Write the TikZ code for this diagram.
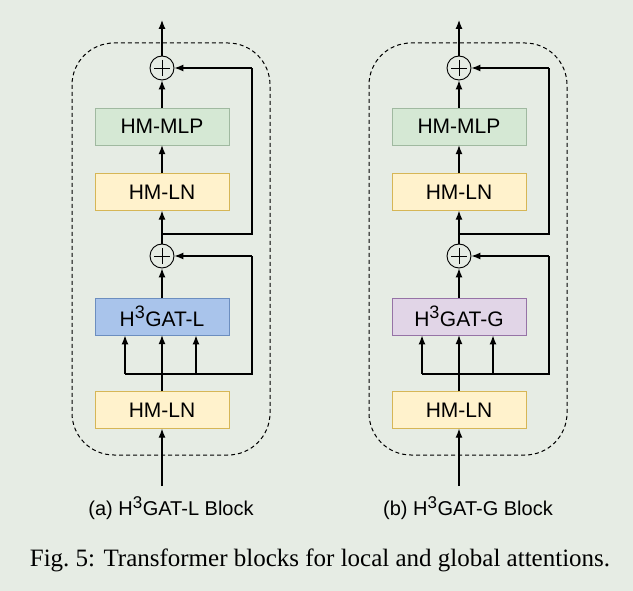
\documentclass[tikz,border=0pt]{standalone}
\usepackage{fontspec}
\usetikzlibrary{arrows.meta}
\setmainfont{Liberation Sans}
\newfontfamily\capfont{Liberation Serif}
\begin{document}
\begin{tikzpicture}[x=1pt,y=-1pt,
 box/.style={draw,minimum width=134pt,minimum height=37pt,inner sep=0pt,font=\fontsize{21}{24}\selectfont},
 plus/.style={circle,draw,minimum size=24pt,inner sep=0pt,line width=0.9pt},
 arr/.style={-{Latex[length=9pt,width=7pt]},line width=1.2pt},
 ln/.style={line width=1.2pt}]
\fill[fill={rgb,255:red,230;green,236;blue,228}] (0,0) rectangle (633,591);
\useasboundingbox (0,0) rectangle (633,591);
\foreach \dx/\nm/\gat/\gf/\gd in {0/a/L/{169,196,235}/{108,142,191},297/b/G/{225,213,231}/{150,115,166}}{
\begin{scope}[xshift=\dx pt]
\definecolor{gf}{RGB}{\gf}\definecolor{gd}{RGB}{\gd}
\draw[dash pattern=on 4pt off 3pt,line width=1pt,rounded corners=42pt] (72,43) rectangle (270,455);
\node[box,fill={rgb,255:red,213;green,232;blue,212},draw={rgb,255:red,160;green,185;blue,160}] (mlp\nm) at (162,126.5) {HM-MLP};
\node[box,fill={rgb,255:red,255;green,242;blue,204},draw={rgb,255:red,214;green,182;blue,86}] (ln1\nm) at (162,192) {HM-LN};
\node[box,fill=gf,draw=gd] (gat\nm) at (162,316.5) {H\textsuperscript{\fontsize{18}{18}\selectfont 3}GAT-\gat};
\node[box,fill={rgb,255:red,255;green,242;blue,204},draw={rgb,255:red,214;green,182;blue,86}] (ln2\nm) at (162,410) {HM-LN};
\node[plus] (p1\nm) at (162,68) {};
\node[plus] (p2\nm) at (162,256) {};
\draw[line width=0.9pt] (p1\nm.center)+(-8,0) -- +(8,0) (p1\nm.center)+(0,-8) -- +(0,8);
\draw[line width=0.9pt] (p2\nm.center)+(-8,0) -- +(8,0) (p2\nm.center)+(0,-8) -- +(0,8);
\coordinate (in\nm) at (162,486);
\coordinate (out\nm) at (162,20);
\coordinate (s\nm) at (162,374);
\coordinate (t\nm) at (162,234);
\draw[arr] (in\nm) -- (ln2\nm);
\draw[ln] (ln2\nm) -- (s\nm);
\draw[arr] (s\nm) -- (gat\nm);
\draw[arr] (125,374) -- (125,335.5);
\draw[arr] (196,374) -- (196,335.5);
\draw[ln] (125,374) -- (252,374) -- (252,256);
\draw[arr] (252,256) -- (p2\nm);
\draw[arr] (gat\nm) -- (p2\nm);
\draw[arr] (p2\nm) -- (ln1\nm);
\draw[ln] (t\nm) -- (252,234) -- (252,68);
\draw[arr] (252,68) -- (p1\nm);
\draw[arr] (ln1\nm) -- (mlp\nm);
\draw[arr] (mlp\nm) -- (p1\nm);
\draw[arr] (p1\nm) -- (out\nm);
\end{scope}}
\node[font=\fontsize{20}{22}\selectfont] (la) at (171,508) {(a) H\textsuperscript{\fontsize{17}{17}\selectfont 3}GAT-L Block};
\node[font=\fontsize{20}{22}\selectfont] (lb) at (468,508) {(b) H\textsuperscript{\fontsize{17}{17}\selectfont 3}GAT-G Block};
\node[font=\capfont\fontsize{25}{27}\selectfont] (cap) at (320,560) {Fig.\ 5: Transformer blocks for local and global attentions.};
\end{tikzpicture}
\end{document}
